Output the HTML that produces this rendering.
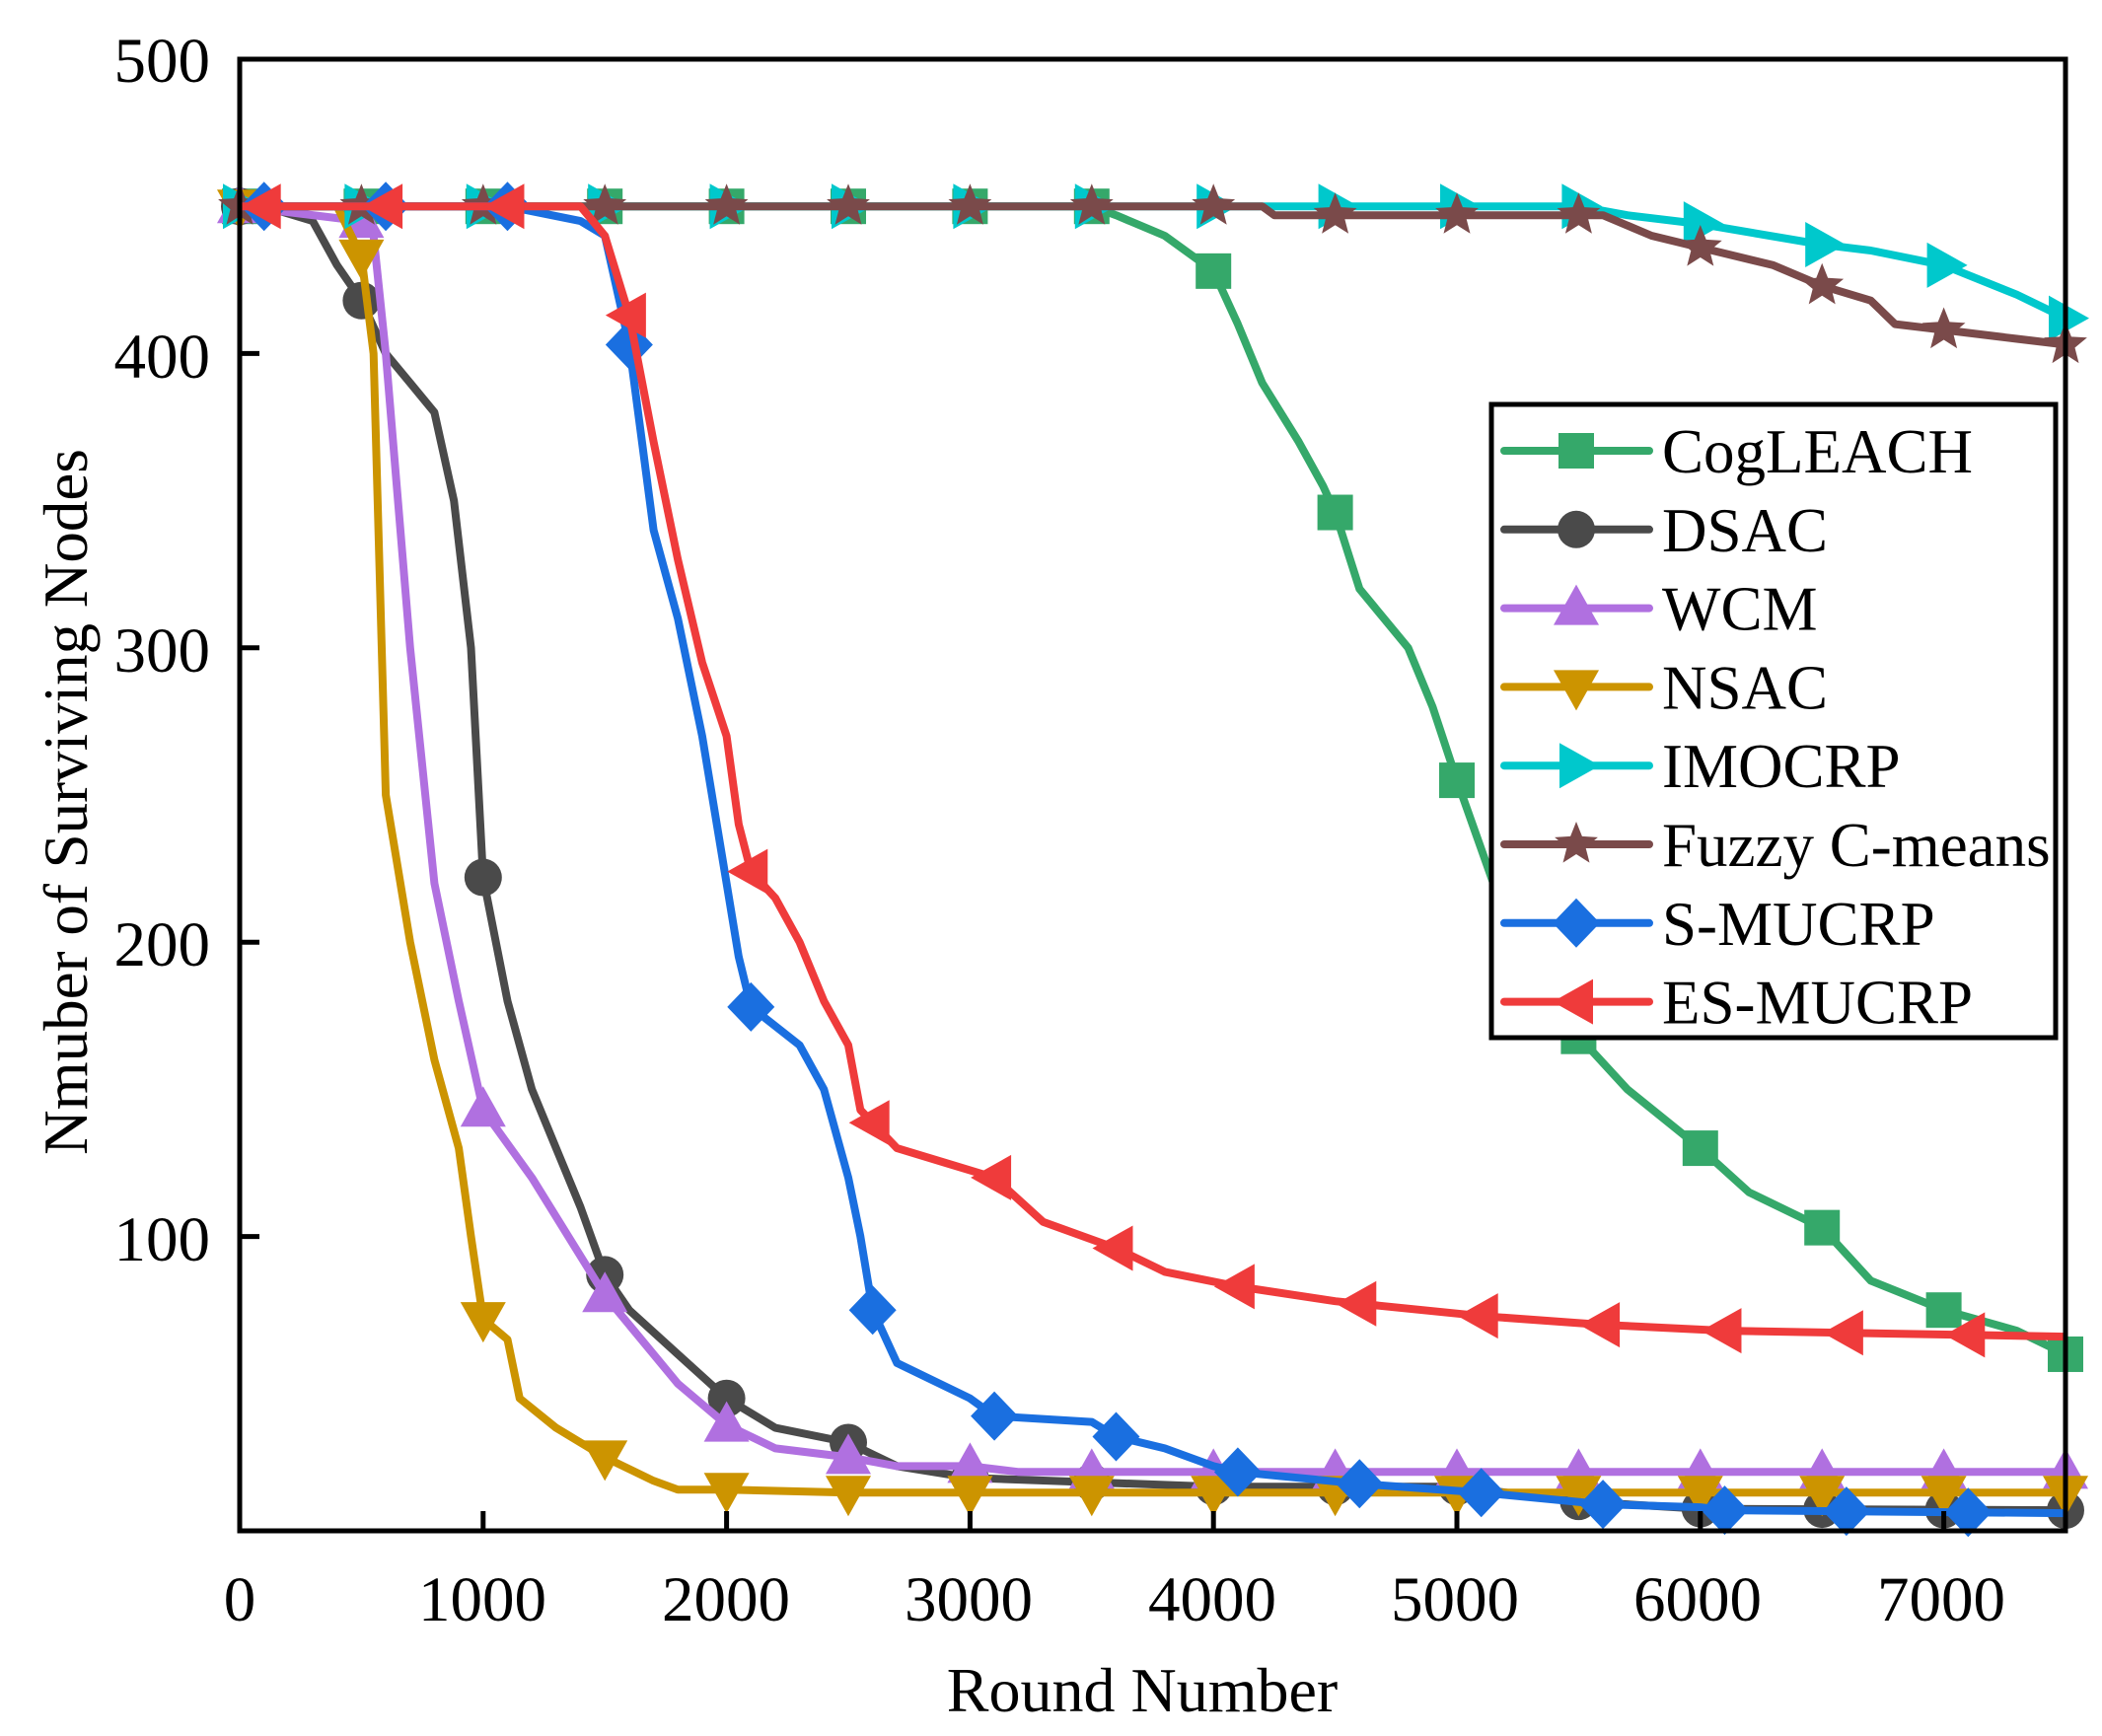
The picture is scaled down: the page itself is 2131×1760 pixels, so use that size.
<!DOCTYPE html>
<html><head><meta charset="utf-8"><style>
html,body{margin:0;padding:0;background:#fff;}
svg{display:block;font-family:"Liberation Serif",serif;}
</style></head><body>
<svg id="s" width="2131" height="1760" viewBox="0 0 2131 1760" xmlns="http://www.w3.org/2000/svg">
<rect width="2131" height="1760" fill="#fff"/>
<g id="plot"></g>
<rect x="243" y="60" width="1851" height="1492" fill="none" stroke="#000" stroke-width="5"/>
<g id="ticks" stroke="#000" stroke-width="5"></g>
<g font-size="65" fill="#000">
<text x="213" y="83" text-anchor="end">500</text>
<text x="213" y="383" text-anchor="end">400</text>
<text x="213" y="681" text-anchor="end">300</text>
<text x="213" y="979" text-anchor="end">200</text>
<text x="213" y="1278" text-anchor="end">100</text>
<text x="243" y="1643" text-anchor="middle">0</text>
<text x="489" y="1643" text-anchor="middle">1000</text>
<text x="736" y="1643" text-anchor="middle">2000</text>
<text x="982" y="1643" text-anchor="middle">3000</text>
<text x="1229" y="1643" text-anchor="middle">4000</text>
<text x="1475" y="1643" text-anchor="middle">5000</text>
<text x="1721" y="1643" text-anchor="middle">6000</text>
<text x="1968" y="1643" text-anchor="middle">7000</text>
<text x="1158" y="1735" text-anchor="middle" font-size="64">Round Number</text>
<text transform="translate(88,813) rotate(-90)" text-anchor="middle" font-size="63">Nmuber of Surviving Nodes</text>
</g>
<rect x="1512" y="410" width="572" height="642" fill="#fff" stroke="#000" stroke-width="5"/>
<g id="leg"></g>
</svg>
<script>
var NS="http://www.w3.org/2000/svg";
function X(v){return 243+v*1851/7500;}
function Y(n){return 1552-n*1492/500;}
function el(tag,attrs,parent){var e=document.createElementNS(NS,tag);for(var k in attrs)e.setAttribute(k,attrs[k]);parent.appendChild(e);return e;}
var T=document.getElementById('ticks');
for(var i=1;i<=7;i++){el('line',{x1:X(i*1000),x2:X(i*1000),y1:1552,y2:1532},T);}
for(var j=1;j<=4;j++){el('line',{x1:243,x2:263,y1:Y(j*100),y2:Y(j*100)},T);}
function interp(d,v){if(v<=d[0][0])return d[0][1];for(var i=1;i<d.length;i++){if(v<=d[i][0]){var a=d[i-1],b=d[i];return a[1]+(b[1]-a[1])*(v-a[0])/(b[0]-a[0]);}}return d[d.length-1][1];}
function marker(type,cx,cy,col,p){var s=21;
 if(type=='sq')el('rect',{x:cx-s+3,y:cy-s+3,width:2*s-6,height:2*s-6,fill:col},p);
 else if(type=='ci')el('circle',{cx:cx,cy:cy,r:s-2,fill:col},p);
 else if(type=='up')el('polygon',{points:(cx)+','+(cy-s-3)+' '+(cx-s-2)+','+(cy+s-4)+' '+(cx+s+2)+','+(cy+s-4),fill:col},p);
 else if(type=='dn')el('polygon',{points:(cx)+','+(cy+s+3)+' '+(cx-s-2)+','+(cy-s+4)+' '+(cx+s+2)+','+(cy-s+4),fill:col},p);
 else if(type=='rt')el('polygon',{points:(cx+s+3)+','+cy+' '+(cx-s+4)+','+(cy-s-2)+' '+(cx-s+4)+','+(cy+s+2),fill:col},p);
 else if(type=='lt')el('polygon',{points:(cx-s-3)+','+cy+' '+(cx+s-4)+','+(cy-s-2)+' '+(cx+s-4)+','+(cy+s+2),fill:col},p);
 else if(type=='di')el('polygon',{points:cx+','+(cy-s-4)+' '+(cx+s+3)+','+cy+' '+cx+','+(cy+s+4)+' '+(cx-s-3)+','+cy,fill:col},p);
 else if(type=='st'){var pts=[];for(var k=0;k<10;k++){var r=k%2?10:23;var a=-Math.PI/2+k*Math.PI/5;pts.push((cx+r*Math.cos(a)).toFixed(1)+','+(cy+r*Math.sin(a)).toFixed(1));}el('polygon',{points:pts.join(' '),fill:col},p);}
}
var S=[
{n:'CogLEACH',c:'#35a86a',m:'sq',o:0,d:[[0,450],[3500,450],[3600,447],[3800,440],[4000,428],[4100,410],[4200,390],[4350,370],[4450,355],[4500,346],[4600,320],[4800,300],[4900,280],[5000,255],[5150,220],[5300,190],[5500,168],[5700,150],[6000,130],[6200,115],[6500,103],[6700,85],[7000,75],[7300,68],[7500,60]]},
{n:'DSAC',c:'#4a4a4a',m:'ci',o:0,d:[[0,450],[100,450],[300,445],[400,430],[500,418],[600,400],[700,390],[800,380],[880,350],[950,300],[1000,222],[1100,180],[1200,150],[1300,130],[1400,110],[1500,87],[1600,75],[1800,60],[2000,45],[2200,35],[2500,30],[2700,22],[3000,18],[4000,15],[5000,15],[5500,10],[6000,7.5],[7500,7]]},
{n:'WCM',c:'#b070e0',m:'up',o:0,d:[[0,450],[500,445],[550,440],[600,400],[700,300],[800,220],[900,180],[1000,143],[1200,120],[1500,80],[1800,50],[2000,36],[2200,28],[2500,25],[2700,22],[3000,22],[3200,20],[7500,20]]},
{n:'NSAC',c:'#cc9400',m:'dn',o:0,d:[[0,450],[400,450],[500,433],[550,400],[600,250],[700,200],[800,160],[900,130],[950,100],[1000,72],[1100,65],[1150,45],[1300,35],[1500,25],[1700,17],[1800,14],[2000,14],[2500,13],[7500,13]]},
{n:'IMOCRP',c:'#00c8cc',m:'rt',o:0,d:[[0,450],[5500,450],[5700,447],[6000,444],[6500,437],[6700,435],[7000,430],[7300,420],[7500,412]]},
{n:'Fuzzy C-means',c:'#7a4a4a',m:'st',o:0,d:[[0,450],[4200,450],[4250,447],[5600,447],[5800,440],[6000,436],[6300,430],[6500,423],[6700,418],[6800,410],[7000,408],[7300,405],[7500,403]]},
{n:'S-MUCRP',c:'#1a6fe0',m:'di',o:100,d:[[0,450],[1100,450],[1400,445],[1500,440],[1600,403],[1700,340],[1800,310],[1900,270],[2000,220],[2050,195],[2100,178],[2300,165],[2400,150],[2500,120],[2550,100],[2600,75],[2700,57],[3000,45],[3100,39],[3500,37],[3600,32],[3800,28],[4000,22],[4100,20],[4600,16],[5100,13],[5600,9],[6000,8],[6100,7],[7500,6]]},
{n:'ES-MUCRP',c:'#ef3b3b',m:'lt',o:100,d:[[0,450],[1400,450],[1450,445],[1500,440],[1600,413],[1700,370],[1800,330],[1900,295],[2000,270],[2050,240],[2100,224],[2200,215],[2300,200],[2400,180],[2500,165],[2550,143],[2700,130],[2900,125],[3100,120],[3300,105],[3600,96],[3800,88],[4100,83],[4500,78],[5100,73],[5600,70],[6100,68],[7500,66]]}
];
var P=document.getElementById('plot');
S.forEach(function(s){
 var pts=s.d.map(function(q){return X(q[0]).toFixed(1)+','+Y(q[1]).toFixed(1);}).join(' ');
 el('polyline',{points:pts,fill:'none',stroke:s.c,'stroke-width':8,'stroke-linejoin':'round'},P);
 for(var v=s.o;v<=7500;v+=500){marker(s.m,X(v),Y(interp(s.d,v)),s.c,P);}
});
var L=document.getElementById('leg');
S.forEach(function(s,i){var y=457+i*79.8;
 el('line',{x1:1525,x2:1672,y1:y,y2:y,stroke:s.c,'stroke-width':8,'stroke-linecap':'round'},L);
 marker(s.m,1598,y,s.c,L);
 var t=el('text',{x:1685,y:y+22,'font-size':63,fill:'#000'},L);t.textContent=s.n;
});
</script>
</body></html>
